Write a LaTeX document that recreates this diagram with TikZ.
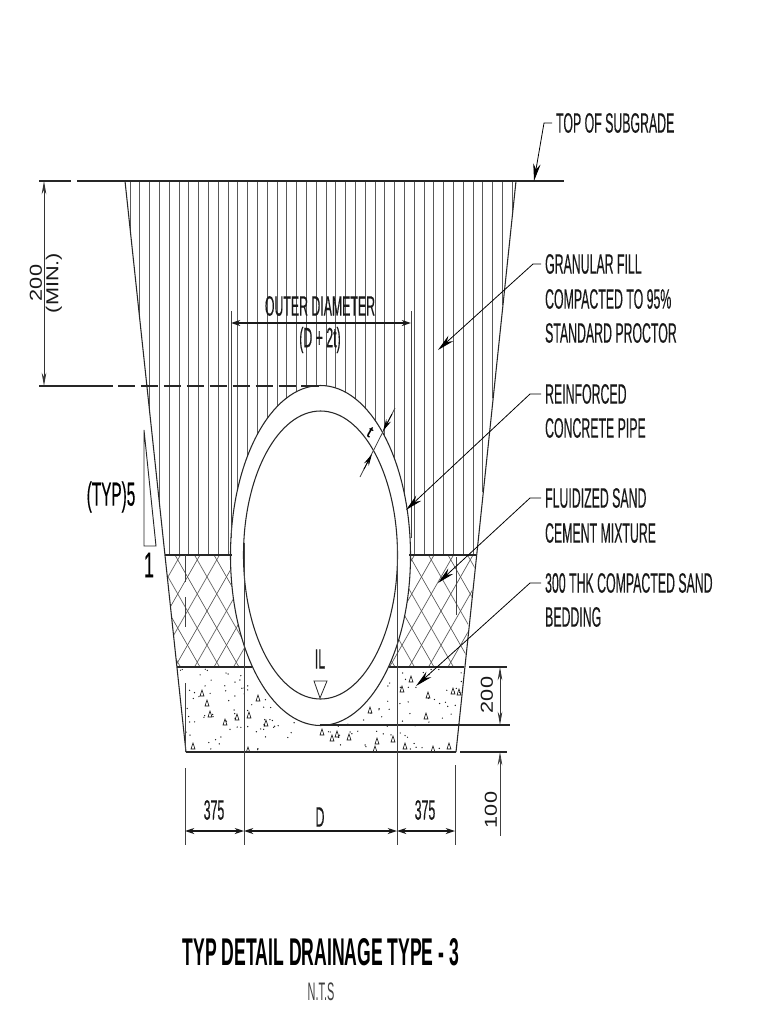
\documentclass[tikz,border=0pt]{standalone}
\usepackage{fontspec}
\setmainfont{Liberation Sans}
\newfontfamily\heavy[FakeBold=0.4]{Liberation Sans}
\newfontfamily\heavier[FakeBold=0.8,BoldFont={Liberation Sans}]{Liberation Sans Bold}
\usetikzlibrary{arrows.meta,calc}
\tikzset{
  ln/.style={line width=0.8pt,black!85},
  thin hatch/.style={line width=0.5pt,black!65},
  hdim/.style={line width=0.8pt,black!90,{Stealth[length=7pt,width=4.5pt]}-{Stealth[length=7pt,width=4.5pt]}},
  vdim/.style={line width=0.7pt,black!80,{Stealth[length=10pt,width=3.5pt]}-{Stealth[length=10pt,width=3.5pt]}},
  ext/.style={line width=0.6pt,black!75},
  leader/.style={line width=0.6pt,black,-{Stealth[length=13pt,width=5.5pt]}},
  lbl/.style={font=\heavy\fontsize{21}{21}\selectfont,xscale=.44,anchor=west,inner sep=0pt,text=black!90},
  mid/.style={font=\heavy\fontsize{21}{21}\selectfont,xscale=.44,inner sep=0pt,text=black!90},
  wide/.style={font=\fontsize{13}{13}\selectfont,rotate=90,xscale=1.25,inner sep=0pt,text=black!90},
  tri/.style={line width=0.45pt,black},
}
\begin{document}
\begin{tikzpicture}[x=0.75pt,y=-0.75pt]
\useasboundingbox (0,0) rectangle (768,1024);
\fill[white] (0,0) rectangle (768,1024);
% hatch: granular fill
\begin{scope}
\clip (125,181) -- (165,555) -- (476,555) -- (516,181) -- cycle;
\foreach \k in {0,...,39} \draw[thin hatch] ({130+9.8*\k},181) -- ({130+9.8*\k},555);
\end{scope}
% cross hatch
\begin{scope}
\clip (165,555) -- (177,667) -- (464,667) -- (476,555) -- cycle;
\foreach \k in {-4,...,20} {
  \draw[thin hatch] ({155.5+19.5*\k},555) -- ({155.5+19.5*\k+64},667);
  \draw[thin hatch] ({155.5+19.5*\k+64},555) -- ({155.5+19.5*\k},667);
}
\end{scope}
% sand bedding stipple
\begin{scope}
\clip (177,667) -- (186,752) -- (456,752) -- (464,667) -- cycle;
\pgfmathsetseed{11}
\foreach \i in {1,...,190} {
  \pgfmathsetmacro\px{177+rnd*287}
  \pgfmathsetmacro\py{669+rnd*82}
  \fill[black!90] (\px,\py) circle (0.7);
}
\foreach \a/\b in {202/693,207/703,210/714,225/722,237/717,249/715,258/698,266/723,193/746,248/750,322/732,332/738,337/734,349/737,377/741,375/749,393/739,405/746,433/749,449/746,370/710,402/689,411/679,428/695,426/716,453/691,459/692}
  \draw[tri] (\a-2,\b+3) -- (\a+2,\b+3) -- (\a,\b-3) -- cycle;
\end{scope}
% pipe
\fill[white] (320.5,555.5) ellipse [x radius=90,y radius=170];
\draw[ln] (320.5,555.5) ellipse [x radius=90,y radius=170];
\draw[ln] (320.5,555) ellipse [x radius=77,y radius=144];
% trench sides
\draw[ln] (125,181) -- (186,752);
\draw[ln] (516,181) -- (456,752);
% layer lines
\draw[line width=1pt,black!85] (165,555) -- (232,555);
\draw[line width=1pt,black!85] (409,555) -- (476,555);
\draw[line width=1pt,black!85] (177,667) -- (252,667);
\draw[line width=1pt,black!85] (389,667) -- (464,667);
\draw[line width=1pt,black!85] (469,667) -- (507,667);
\draw[line width=1pt,black!85] (320,725) -- (510,725);
\draw[line width=1pt,black!85] (186,752) -- (456,752);
\draw[line width=1pt,black!85] (460,752) -- (507,752);
% top lines
\draw[line width=1pt,black!85] (39,181) -- (71,181);
\draw[line width=1pt,black!85] (77,181) -- (564,181);
\draw[line width=1pt,black!85] (39,386) -- (113,386);
\draw[line width=1pt,black!85,dash pattern=on 13pt off 4.2pt] (118,386) -- (320,386);
% extension lines
\draw[ext] (244,543) -- (244,845);
\draw[ext] (397,543) -- (397,845);
\draw[ext] (231,311) -- (231,538);
\draw[ext] (411,311) -- (411,538);
\draw[ext] (185,555) -- (185,582) (185,597) -- (185,627) (185,683) -- (185,752) (185,768) -- (185,845);
\draw[ext] (456,557) -- (456,615) (455,765) -- (455,845);
% dimension coordinates
\coordinate (dl1) at (44,181); \coordinate (dl2) at (44,386);
\coordinate (od1) at (231,323); \coordinate (od2) at (411,323);
\coordinate (a1) at (185,831); \coordinate (a2) at (244,831); \coordinate (a3) at (397,831); \coordinate (a4) at (455,831);
\coordinate (r1) at (500,667); \coordinate (r2) at (500,725); \coordinate (r3) at (500,752); \coordinate (r4) at (500,836);
\draw[vdim] (dl1) -- (dl2);
\draw[hdim] (od1) -- (od2);
\draw[hdim] (a1) -- (a2);
\draw[hdim] (a2) -- (a3);
\draw[hdim] (a3) -- (a4);
\draw[vdim] (r1) -- (r2);
\draw[ext,{Stealth[length=10pt,width=3.5pt]}-] (r3) -- (r4);
% thickness mark
\coordinate (t1) at (360,477); \coordinate (t2) at (395,408);
\draw[ext] (t1) -- (t2);
\draw[line width=0.6pt,black,-{Stealth[length=9pt,width=4pt]}] (364,469) -- (372,454);
\draw[line width=0.6pt,black,-{Stealth[length=9pt,width=4pt]}] (392,414) -- (383,431);
\node (tt) [font=\heavy\fontsize{12}{12}\selectfont,rotate=-30,inner sep=0pt] at (370,432) {t};
% slope triangle
\draw[line width=0.7pt,black!85] (144,430) -- (144,546) -- (156,546) -- cycle;
\node (one) [font=\heavy\fontsize{27}{27}\selectfont,xscale=.5,inner sep=0pt] at (149,565) {1};
\node (typ) [font=\heavy\fontsize{25}{25}\selectfont,xscale=.46,inner sep=0pt] at (111,497) {(TYP)5};
% invert level
\node (il) [mid] at (320,659) {IL};
\coordinate (ilm) at (320,698);
\coordinate (ila) at (314,681);
\coordinate (ilb) at (327,681);
\draw[line width=0.6pt,black!85] (ila) -- (ilb) -- (ilm) -- cycle;
% text labels
\node (od) [mid] at (320,306) {OUTER DIAMETER};
\node (d2t) [mid] at (320,340) {(D + 2t)};
\node (d) [mid] at (320,817) {D};
\node (n375a) [mid] at (214,810) {375};
\node (n375b) [mid] at (425,810) {375};
\node (min) [wide] at (54,283) {(MIN.)};
\node (n200a) [wide] at (36,283) {200};
\node (n200b) [wide] at (487,695) {200};
\node (n100) [wide] at (491,810) {100};
\node (top) [lbl] at (556,123) {TOP OF SUBGRADE};
\node (g1) [lbl] at (545,264) {GRANULAR FILL};
\node (g2) [lbl] at (545,299) {COMPACTED TO 95\%};
\node (g3) [lbl] at (545,333) {STANDARD PROCTOR};
\node (c1) [lbl] at (545,394) {REINFORCED};
\node (c2) [lbl] at (545,428) {CONCRETE PIPE};
\node (f1) [lbl] at (545,498) {FLUIDIZED SAND};
\node (f2) [lbl] at (545,533) {CEMENT MIXTURE};
\node (b1) [lbl] at (545,583) {300 THK COMPACTED SAND};
\node (b2) [lbl] at (545,617) {BEDDING};
% leaders
\coordinate (ltop) at (534,181);
\coordinate (lg) at (438,350);
\coordinate (lc) at (406,510);
\coordinate (lf) at (438,583);
\coordinate (lb) at (416,686);
\draw[leader] ([xshift=-3]top.west) -- ++(-8,0) -- (ltop);
\draw[leader] ([xshift=-3]g1.west) -- ++(-8,0) -- (lg);
\draw[leader] ([xshift=-3]c1.west) -- ++(-11,0) -- (lc);
\draw[leader] ([xshift=-3]f1.west) -- ++(-11,0) -- (lf);
\draw[leader] ([xshift=-3]b1.west) -- ++(-11,0) -- (lb);
% title
\node (title) [font=\fontsize{29}{29}\selectfont\bfseries,xscale=.455,inner sep=0pt,text=black] at (321,952) {TYP DETAIL DRAINAGE TYPE - 3};
\node (nts) [font=\fontsize{19}{19}\selectfont,xscale=.43,inner sep=0pt,text=black!75] at (321,992) {N.T.S};
\end{tikzpicture}
\end{document}
